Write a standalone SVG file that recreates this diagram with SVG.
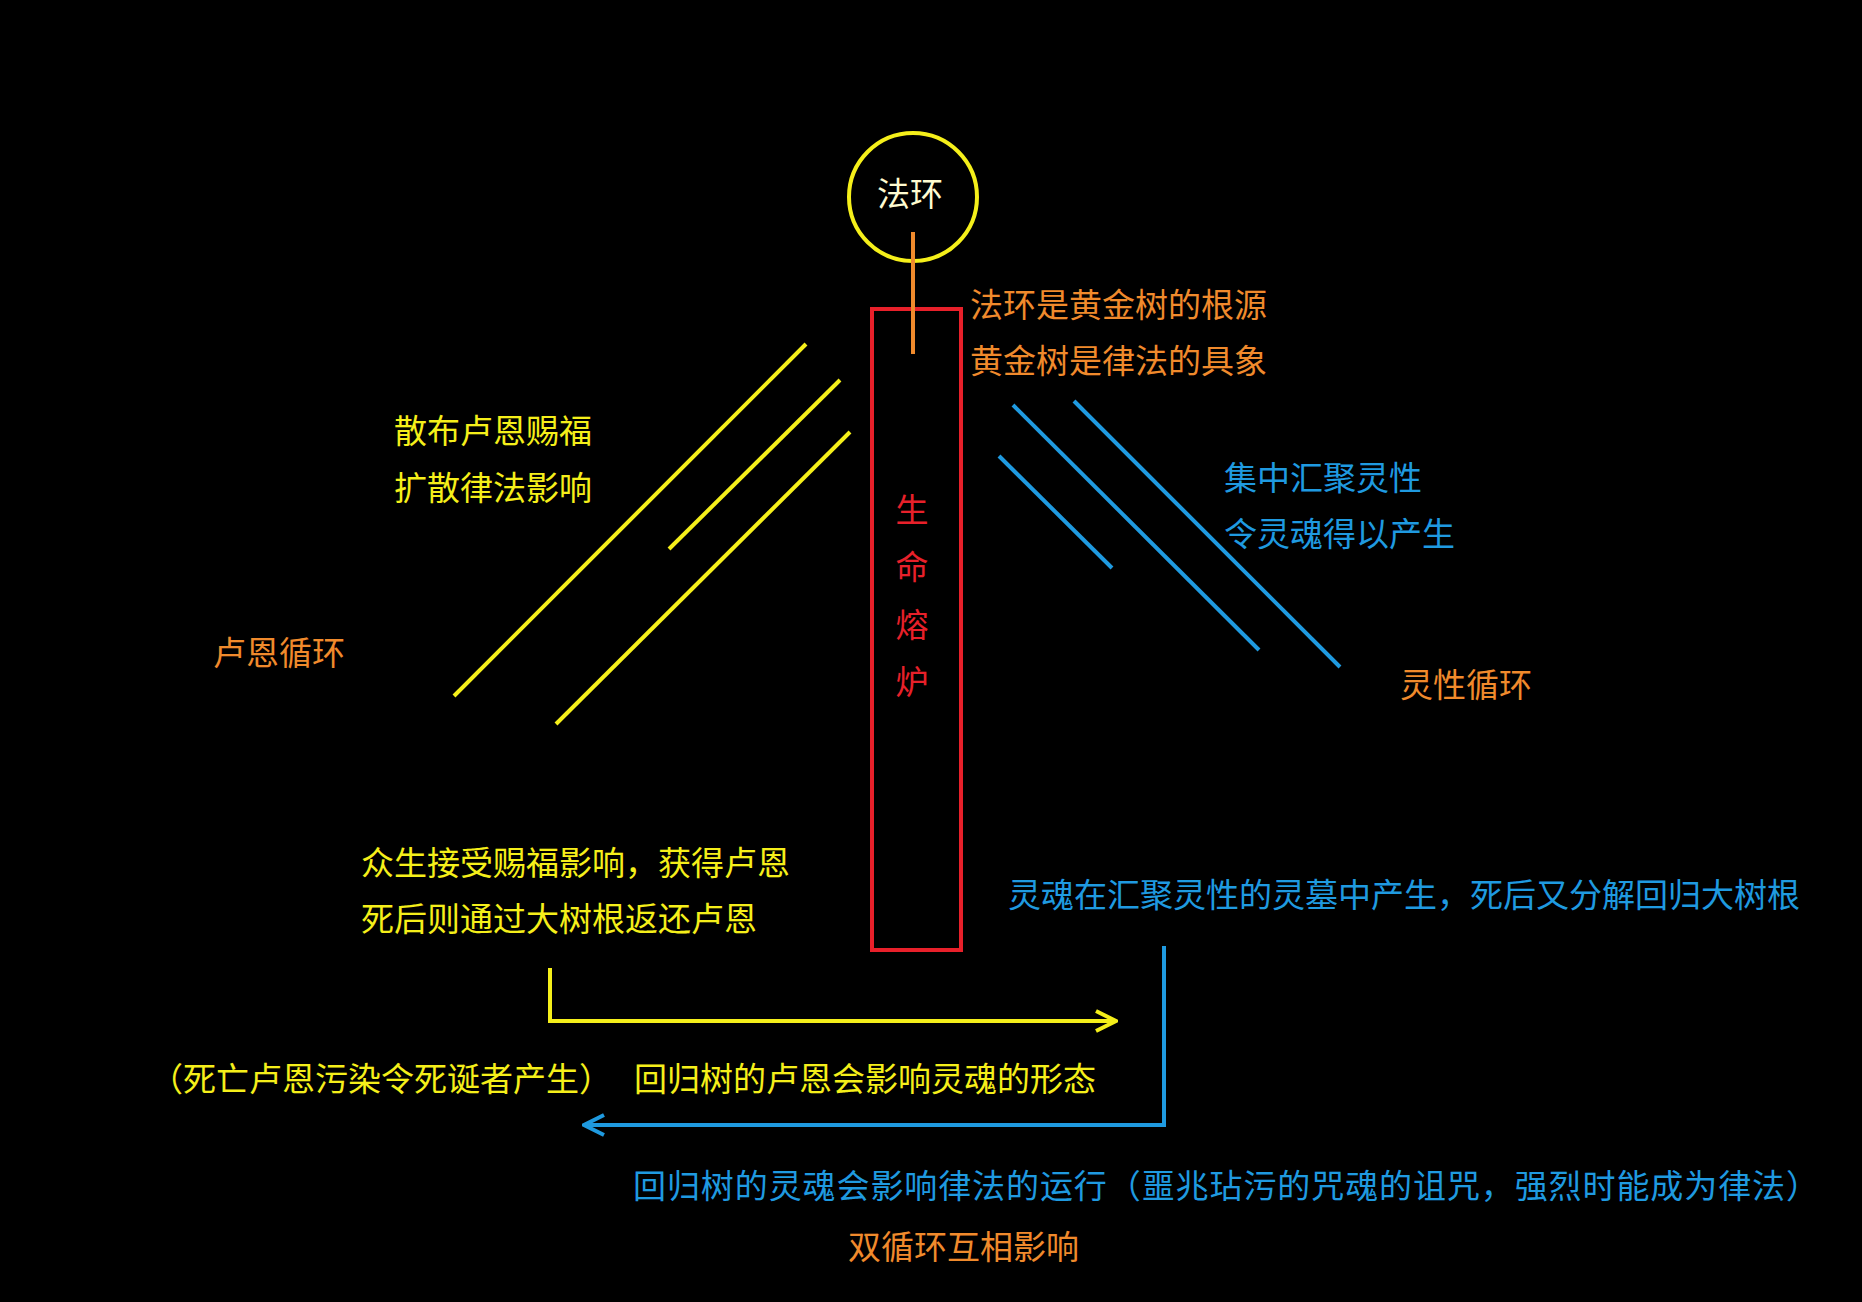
<svg xmlns="http://www.w3.org/2000/svg" width="1862" height="1302" viewBox="0 0 1862 1302">
<style>
text{font-family:"Noto Sans CJK SC","Noto Sans",sans-serif;font-size:33px;dominant-baseline:central}
.y{fill:#f5ef1a}.o{fill:#f08a2c}.b{fill:#1f9ae0}.r{fill:#e8202a}
.ly{stroke:#f5ef1a;stroke-width:4;fill:none}.lb{stroke:#1f9ae0;stroke-width:4;fill:none}
</style>
<defs>
<marker id="ay" viewBox="0 0 12 12" refX="11" refY="6" markerWidth="6" markerHeight="6" orient="auto" markerUnits="strokeWidth"><path d="M1,1 L11,6 L1,11" fill="none" stroke="#f5ef1a" stroke-width="2"/></marker>
<marker id="ab" viewBox="0 0 12 12" refX="11" refY="6" markerWidth="6" markerHeight="6" orient="auto" markerUnits="strokeWidth"><path d="M1,1 L11,6 L1,11" fill="none" stroke="#1f9ae0" stroke-width="2"/></marker>
</defs>
<rect width="1862" height="1302" fill="#000"/>
<g id="fahuan"><circle cx="913" cy="197" r="64" fill="none" stroke="#f5ef1a" stroke-width="4"/><text x="910" y="192" text-anchor="middle" fill="#fffbd0">法环</text></g>
<g id="ronglu"><rect x="872" y="309" width="89" height="641" fill="none" stroke="#e8202a" stroke-width="4"/>
<text class="r" x="912" y="508" text-anchor="middle">生</text><text class="r" x="912" y="565" text-anchor="middle">命</text><text class="r" x="912" y="623" text-anchor="middle">熔</text><text class="r" x="912" y="680" text-anchor="middle">炉</text></g>
<g id="connectors">
<line x1="913" y1="232" x2="913" y2="354" stroke="#f08a2c" stroke-width="4"/>
<line class="ly" x1="806" y1="344" x2="454" y2="696"/>
<line class="ly" x1="840" y1="380" x2="669" y2="549"/>
<line class="ly" x1="850" y1="432" x2="556" y2="724"/>
<line class="lb" x1="1013" y1="405" x2="1259" y2="650"/>
<line class="lb" x1="1074" y1="401" x2="1340" y2="667"/>
<line class="lb" x1="999" y1="456" x2="1112" y2="568"/>
<polyline class="ly" points="550,968 550,1021 1116,1021" marker-end="url(#ay)"/>
<polyline class="lb" points="1164,946 1164,1125 584,1125" marker-end="url(#ab)"/>
</g>
<g id="labels">
<text class="o" x="970" y="303">法环是黄金树的根源</text>
<text class="o" x="970" y="359">黄金树是律法的具象</text>
<text class="y" x="394" y="429">散布卢恩赐福</text>
<text class="y" x="394" y="486">扩散律法影响</text>
<text class="o" x="213" y="651">卢恩循环</text>
<text class="b" x="1224" y="476">集中汇聚灵性</text>
<text class="b" x="1224" y="532">令灵魂得以产生</text>
<text class="o" x="1400" y="683">灵性循环</text>
<text class="y" x="361" y="861">众生接受赐福影响，获得卢恩</text>
<text class="y" x="361" y="917">死后则通过大树根返还卢恩</text>
<text class="b" x="1008" y="893">灵魂在汇聚灵性的灵墓中产生，死后又分解回归大树根</text>
<text class="y" x="150" y="1077">（死亡卢恩污染令死诞者产生）</text>
<text class="y" x="634" y="1077">回归树的卢恩会影响灵魂的形态</text>
<text class="b" x="633" y="1184" textLength="1186">回归树的灵魂会影响律法的运行（噩兆玷污的咒魂的诅咒，强烈时能成为律法）</text>
<text class="o" x="848" y="1245">双循环互相影响</text>
</g>
</svg>
